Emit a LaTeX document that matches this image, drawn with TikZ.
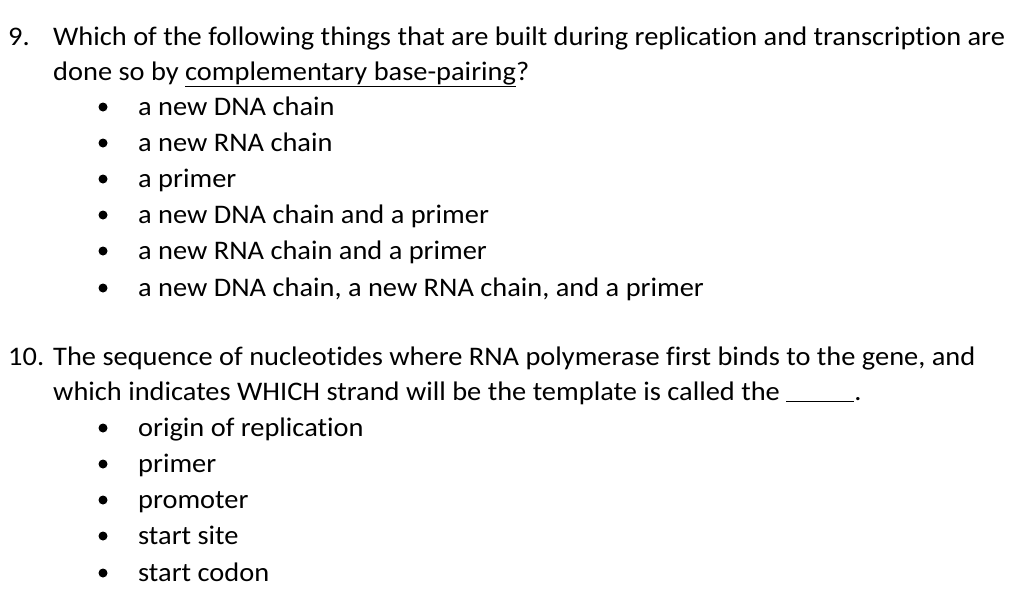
\documentclass[tikz,border=0pt]{standalone}
\usepackage{fontspec}
\setmainfont{Carlito}[RawFeature=-liga,FakeStretch=1.06]
\begin{document}
\begin{tikzpicture}[x=1pt,y=-1pt,
  txt/.style={anchor=base west,inner sep=0pt,font=\fontsize{26.8}{30}\selectfont},
  bul/.style={circle,fill=black,inner sep=0pt,minimum size=9pt}]
\useasboundingbox (0,0) rectangle (1024,613);
\node[txt] (n9) at (8,45) {9.};
\node[txt] (q9a) at (53,45) {Which of the following things that are built during replication and transcription are};
\node[txt] (q9b) at (53,80) {done so by \underline{complementary base-pairing}?};
\foreach \y/\t [count=\i] in {115/a new DNA chain,151/a new RNA chain,187/a primer,223/a new DNA chain and a primer,259/a new RNA chain and a primer,296/{a new DNA chain, a new RNA chain, and a primer}}{
  \node[bul] (b9\i) at (103,\y-8) {};
  \node[txt] (t9\i) at (138,\y) {\t};
}
\node[txt] (n10) at (8,365) {10.};
\node[txt] (q10a) at (53,365) {The sequence of nucleotides where RNA polymerase first binds to the gene, and};
\node[txt] (q10b) at (53,400) {which indicates WHICH strand will be the template is called the \underline{\hspace{68pt}}.};
\foreach \y/\t [count=\i] in {436/origin of replication,472/primer,508/promoter,544/start site,581/start codon}{
  \node[bul] (b10\i) at (103,\y-8) {};
  \node[txt] (t10\i) at (138,\y) {\t};
}
\end{tikzpicture}
\end{document}
